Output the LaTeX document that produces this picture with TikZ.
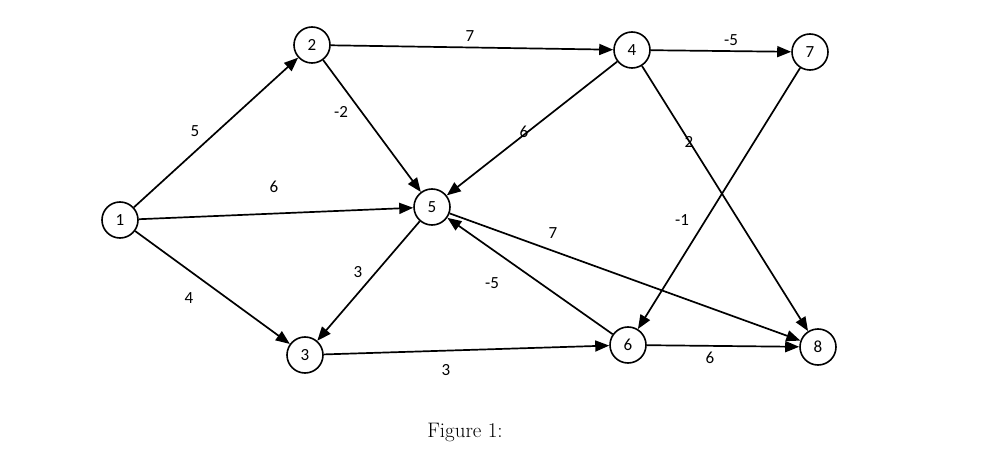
\documentclass[tikz,border=0pt]{standalone}
\usepackage{fontspec}
\newfontfamily\lab{Carlito}
\usetikzlibrary{arrows.meta}
\begin{document}
\begin{tikzpicture}[x=1pt,y=-1pt,
  v/.style={circle,draw,line width=1.6pt,minimum size=36pt,inner sep=0pt,font=\lab\fontsize{17}{17}\selectfont},
  e/.style={line width=1.7pt,-{Triangle[length=14pt,width=11pt]}},
  l/.style={font=\lab\fontsize{17}{17}\selectfont}]
\useasboundingbox (0,0) rectangle (986,468);
\node[v] (n1) at (120,220) {1};
\node[v] (n2) at (312,45) {2};
\node[v] (n4) at (632,50) {4};
\node[v] (n7) at (810,52) {7};
\node[v] (n5) at (432,207) {5};
\node[v] (n3) at (305,355) {3};
\node[v] (n6) at (628,345) {6};
\node[v] (n8) at (818,347) {8};
\draw[e] (n1)--(n2);
\draw[e] (n1)--(n5);
\draw[e] (n1)--(n3);
\draw[e] (n2)--(n4);
\draw[e] (n2)--(n5);
\draw[e] (n4)--(n7);
\draw[e] (n4)--(n5);
\draw[e] (n4)--(n8);
\draw[e] (n7)--(n6);
\draw[e] (n5)--(n3);
\draw[e] (n5)--(n8);
\draw[e] (n6)--(n5);
\draw[e] (n3)--(n6);
\draw[e] (n6)--(n8);
\node[l] (a) at (470,36) {7};
\node[l] (b) at (731,40) {-5};
\node[l] (c) at (341,112) {-2};
\node[l] (d) at (195,131) {5};
\node[l] (f) at (274,187) {6};
\node[l] (g) at (524,132) {6};
\node[l] (h) at (689,142) {2};
\node[l] (i) at (682,220) {-1};
\node[l] (j) at (553,233) {7};
\node[l] (k) at (358,272) {3};
\node[l] (m) at (492,283) {-5};
\node[l] (o) at (189,298) {4};
\node[l] (p) at (446,370) {3};
\node[l] (q) at (710,358) {6};
\node[font=\fontsize{21}{21}\selectfont] (cap) at (465,432) {Figure 1:};
\end{tikzpicture}
\end{document}
